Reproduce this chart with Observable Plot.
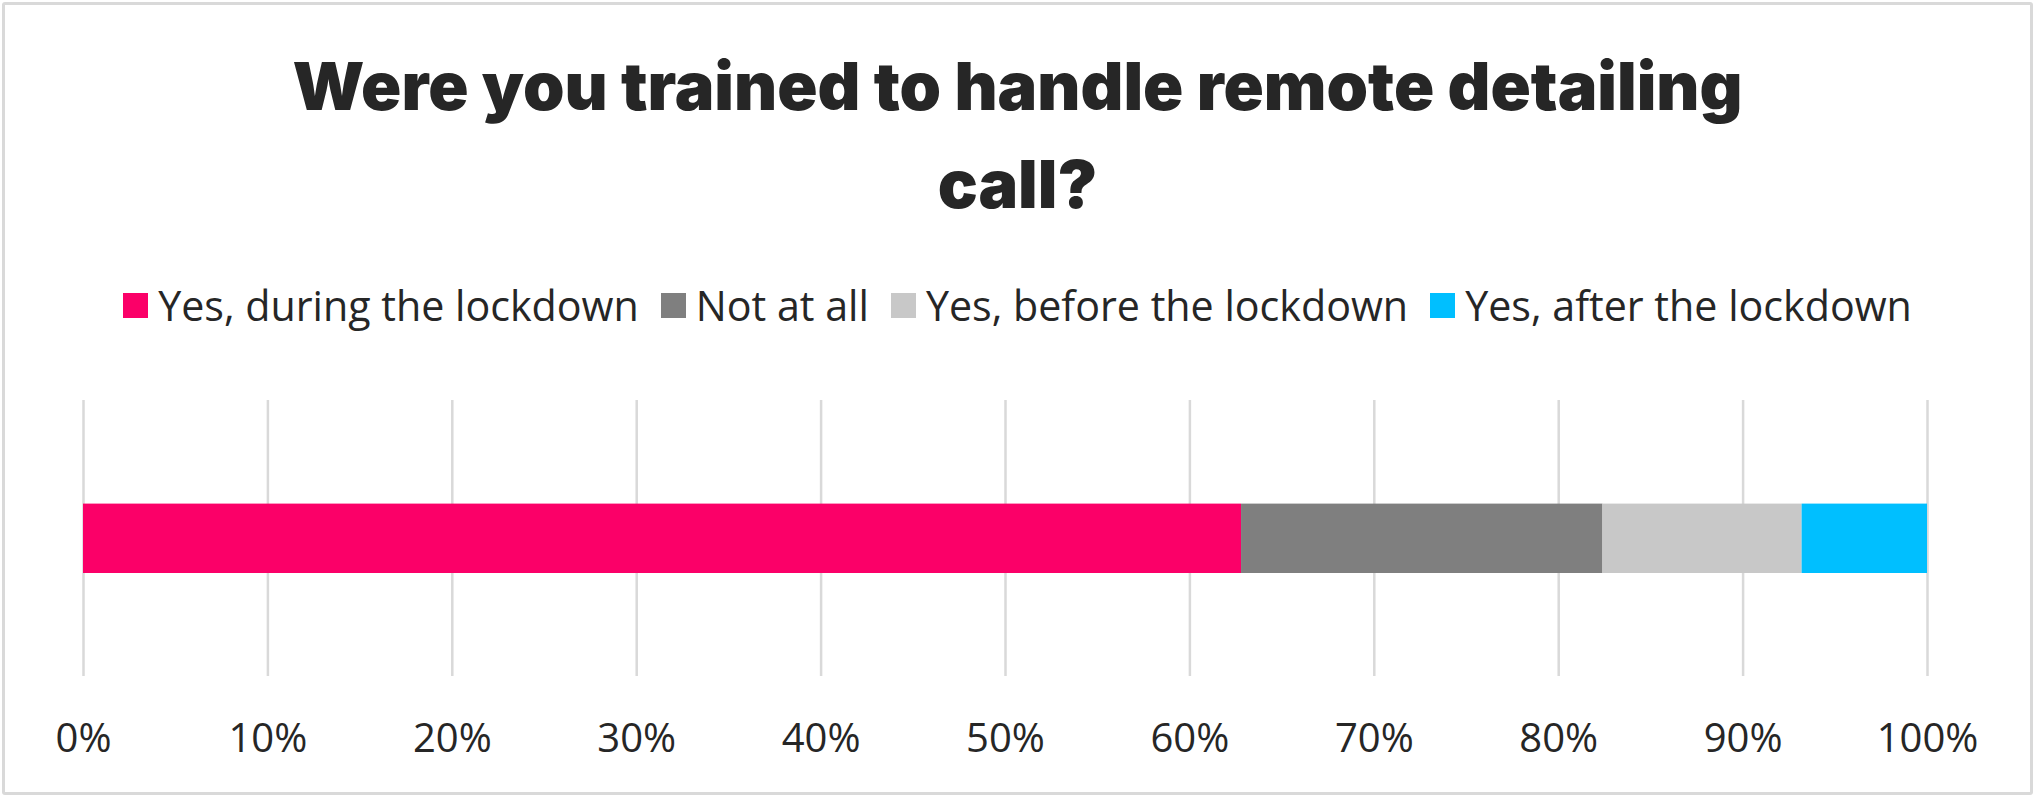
<!DOCTYPE html>
<html>
<head>
<meta charset="utf-8">
<script src="https://cdn.jsdelivr.net/npm/d3@7"></script>
<script src="https://cdn.jsdelivr.net/npm/@observablehq/plot@0.6"></script>
<style>
  html, body { margin: 0; padding: 0; background: #fff; }
  #frame {
    position: absolute; left: 2px; top: 2px; width: 2025px; height: 787px;
    border: 3px solid #d9d9d9; border-radius: 3px; background: #fff;
  }
  #title {
    position: absolute; left: 0; top: 0; width: 2035px; text-align: center;
    font-family: Inter, "DejaVu Sans", sans-serif; font-weight: 900;
    font-size: 66.5px; line-height: 97px; color: #262626; letter-spacing: 0px;
  }
  #title .l1 { position: absolute; left: 0; width: 100%; top: 38px; }
  #title .l2 { position: absolute; left: 0; width: 100%; top: 136px; }
  #legend {
    position: absolute; left: 0; top: 280px; width: 2035px; height: 50px;
    display: flex; justify-content: center; align-items: center;
    font-family: "Open Sans", sans-serif; font-size: 41.2px; color: #262626;
  }
  .item { display: flex; align-items: center; margin: 0 11px; }
  .sw { width: 25px; height: 25px; margin-right: 10px; }
  #chart { position: absolute; left: 0; top: 380px; }
</style>
</head>
<body>
<div id="frame"></div>
<div id="title"><div class="l1">Were you trained to handle remote detailing</div><div class="l2">call?</div></div>
<div id="legend"></div>
<div id="chart"></div>
<script>
const categories = ["Yes, during the lockdown", "Not at all", "Yes, before the lockdown", "Yes, after the lockdown"];
const values = [0.628, 0.196, 0.108, 0.068];
const colors = ["#fb0068", "#7f7f7f", "#c8c8c8", "#00bfff"];
const tickValues = [0, 0.1, 0.2, 0.3, 0.4, 0.5, 0.6, 0.7, 0.8, 0.9, 1.0];
const tickLabels = ["0%", "10%", "20%", "30%", "40%", "50%", "60%", "70%", "80%", "90%", "100%"];

const data = categories.map((c, i) => ({category: c, value: values[i]}));

// legend
const legend = document.getElementById("legend");
categories.forEach((c, i) => {
  const it = document.createElement("div");
  it.className = "item";
  const sw = document.createElement("div");
  sw.className = "sw";
  sw.style.background = colors[i];
  const t = document.createElement("span");
  t.textContent = c;
  it.appendChild(sw); it.appendChild(t);
  legend.appendChild(it);
});

const chart = Plot.plot({
  width: 2035,
  height: 400,
  marginLeft: 83,
  marginRight: 108,
  marginTop: 20,
  marginBottom: 104,
  style: {fontFamily: "'Open Sans', sans-serif", color: "#262626", background: "transparent"},
  x: {domain: [0, 1], ticks: tickValues, tickSize: 0, label: null},
  color: {domain: categories, range: colors},
  marks: [
    Plot.ruleX(tickValues, {stroke: "#d9d9d9", strokeWidth: 2.5}),
    Plot.barX(data, Plot.stackX({x: "value", fill: "category", order: null, insetTop: 103.6, insetBottom: 103})),
    Plot.axisX({ticks: tickValues, tickFormat: (d) => tickLabels[tickValues.findIndex(v => Math.abs(v - d) < 1e-9)], tickSize: 0, tickPadding: 47, fontSize: 40, label: null})
  ]
});
document.getElementById("chart").appendChild(chart);
</script>
</body>
</html>
